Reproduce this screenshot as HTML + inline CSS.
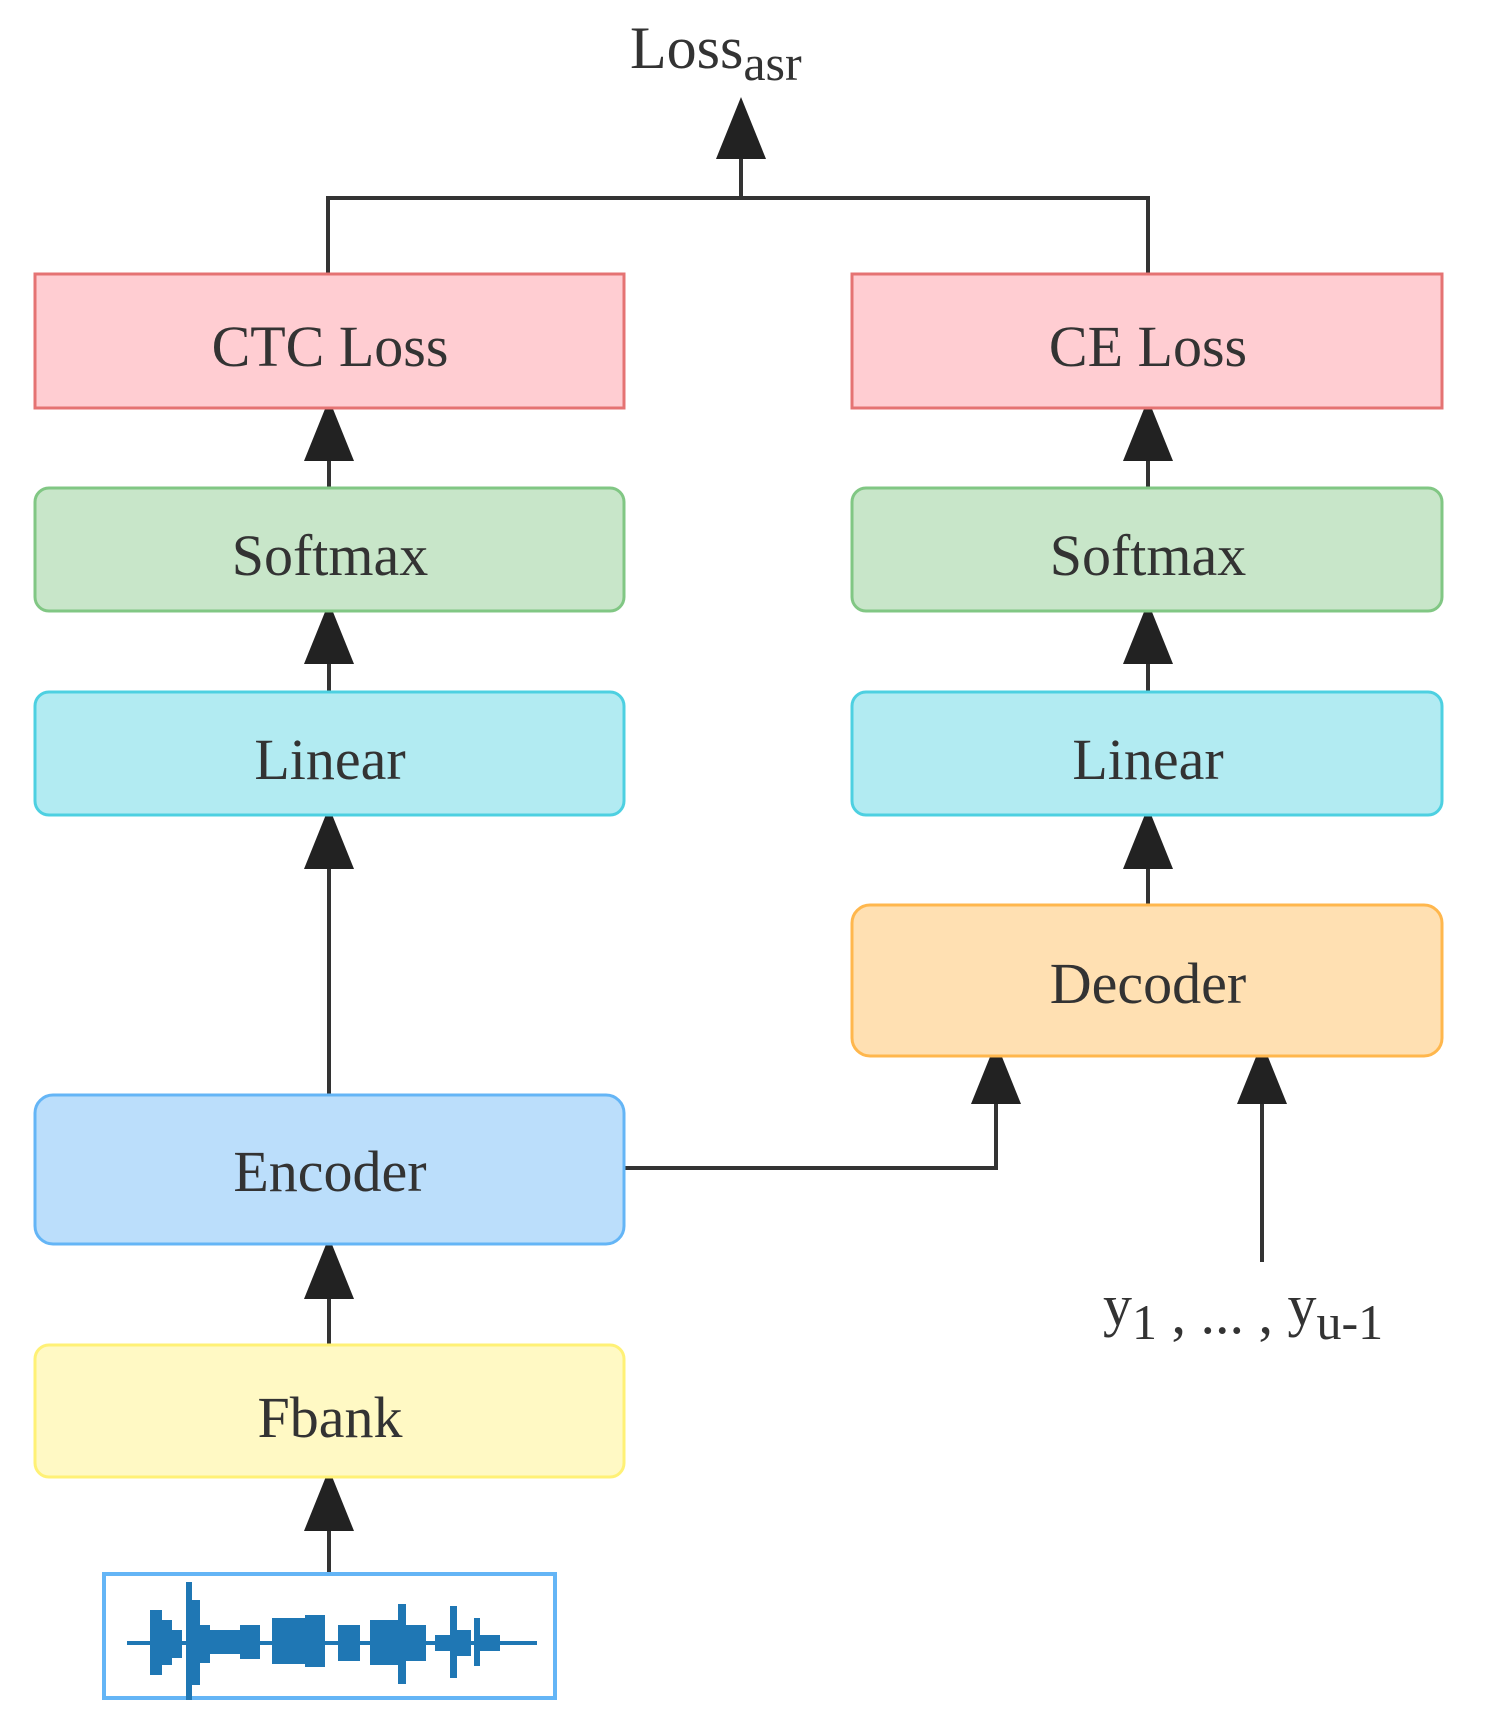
<!DOCTYPE html>
<html><head><meta charset="utf-8"><style>html,body{margin:0;padding:0;background:#fff}svg{display:block}</style></head>
<body>
<svg width="1508" height="1731" viewBox="0 0 1508 1731" xmlns="http://www.w3.org/2000/svg" font-family="Liberation Serif, serif" fill="#333">
<defs>
<g id="ah"><polygon points="0,0 -25,62 25,62" fill="#222"/></g>
</defs>
<!-- top -->
<text x="630" y="68" font-size="60" fill="#333">Loss<tspan font-size="50" dy="12">asr</tspan></text>
<g stroke="#333" stroke-width="4" fill="none">
<polyline points="328,274 328,198 1148,198 1148,274"/>
<line x1="741" y1="198" x2="741" y2="150"/>
<!-- left column -->
<line x1="329" y1="488" x2="329" y2="450"/>
<line x1="329" y1="692" x2="329" y2="650"/>
<line x1="329" y1="1095" x2="329" y2="855"/>
<line x1="329" y1="1345" x2="329" y2="1290"/>
<line x1="329" y1="1576" x2="329" y2="1520"/>
<!-- right column -->
<line x1="1148" y1="488" x2="1148" y2="450"/>
<line x1="1148" y1="692" x2="1148" y2="650"/>
<line x1="1148" y1="905" x2="1148" y2="855"/>
<polyline points="624,1168 996,1168 996,1090"/>
<line x1="1262" y1="1262" x2="1262" y2="1090"/>
</g>
<use href="#ah" x="741" y="97"/>
<use href="#ah" x="329" y="399"/>
<use href="#ah" x="329" y="602"/>
<use href="#ah" x="329" y="807"/>
<use href="#ah" x="329" y="1237"/>
<use href="#ah" x="329" y="1469"/>
<use href="#ah" x="1148" y="399"/>
<use href="#ah" x="1148" y="602"/>
<use href="#ah" x="1148" y="807"/>
<use href="#ah" x="996" y="1042"/>
<use href="#ah" x="1262" y="1042"/>
<!-- boxes -->
<g stroke-width="3">
<rect x="35" y="274" width="589" height="134" fill="#ffcdd2" stroke="#e57373"/>
<rect x="852" y="274" width="590" height="134" fill="#ffcdd2" stroke="#e57373"/>
<rect x="35" y="488" width="589" height="123" rx="14" fill="#c8e6c9" stroke="#81c784"/>
<rect x="852" y="488" width="590" height="123" rx="14" fill="#c8e6c9" stroke="#81c784"/>
<rect x="35" y="692" width="589" height="123" rx="14" fill="#b2ebf2" stroke="#4dd0e1"/>
<rect x="852" y="692" width="590" height="123" rx="14" fill="#b2ebf2" stroke="#4dd0e1"/>
<rect x="852" y="905" width="590" height="151" rx="18" fill="#ffe0b2" stroke="#ffb74d"/>
<rect x="35" y="1095" width="589" height="149" rx="18" fill="#bbdefb" stroke="#64b5f6"/>
<rect x="35" y="1345" width="589" height="132" rx="14" fill="#fff9c4" stroke="#fff176"/>
<rect x="104" y="1574" width="451" height="124" fill="#fff" stroke="#64b5f6" stroke-width="4"/>
</g>
<g font-size="58" text-anchor="middle" fill="#333">
<text x="330" y="366">CTC Loss</text>
<text x="1148" y="366">CE Loss</text>
<text x="330" y="575">Softmax</text>
<text x="1148" y="575">Softmax</text>
<text x="330" y="779">Linear</text>
<text x="1148" y="779">Linear</text>
<text x="1148" y="1003">Decoder</text>
<text x="330" y="1191">Encoder</text>
<text x="330" y="1437">Fbank</text>
</g>
<text x="1103" y="1325" font-size="58" fill="#333">y<tspan font-size="50" dy="14">1</tspan><tspan dy="-6"> , ... , </tspan><tspan dy="-8">y</tspan><tspan font-size="50" dy="14">u-1</tspan></text>
<!-- waveform -->
<g fill="#1f77b4">
<rect x="127" y="1641" width="410" height="4"/>
<rect x="150" y="1610" width="12" height="65"/>
<rect x="162" y="1620" width="10" height="45"/>
<rect x="172" y="1630" width="10" height="28"/>
<rect x="186" y="1582" width="6" height="118"/>
<rect x="192" y="1600" width="8" height="85"/>
<rect x="200" y="1625" width="10" height="38"/>
<rect x="210" y="1630" width="50" height="24"/>
<rect x="240" y="1625" width="20" height="34"/>
<rect x="272" y="1618" width="40" height="46"/>
<rect x="305" y="1615" width="20" height="52"/>
<rect x="338" y="1625" width="22" height="36"/>
<rect x="370" y="1620" width="30" height="45"/>
<rect x="398" y="1604" width="8" height="80"/>
<rect x="406" y="1625" width="20" height="36"/>
<rect x="435" y="1635" width="20" height="16"/>
<rect x="450" y="1606" width="7" height="72"/>
<rect x="457" y="1630" width="14" height="26"/>
<rect x="474" y="1618" width="6" height="48"/>
<rect x="480" y="1635" width="20" height="16"/>
</g>
</svg>
</body></html>
